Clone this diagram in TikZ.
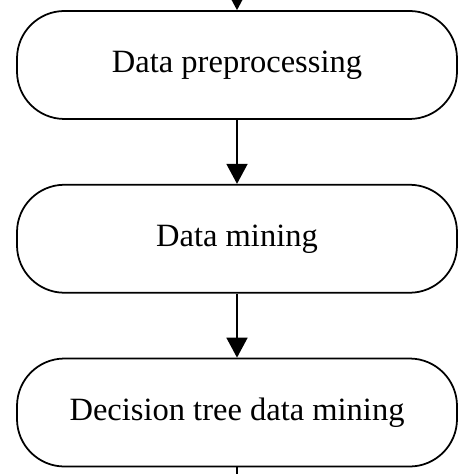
\documentclass[tikz,border=0pt]{standalone}
\usepackage{fontspec}
\setmainfont{Liberation Serif}
\usetikzlibrary{arrows.meta, positioning}
\tikzstyle{step box} = [rectangle,
			draw,
			line width = 1pt,
			rounded corners = 0.95cm,
			text centered,
			minimum width = 8.8cm,
			minimum height = 2.16cm,
			font = \fontsize{18.5}{22}\selectfont]
\tikzstyle{line} = [draw, line width = 1pt, -{Triangle[width=0.42cm, length=0.4cm]}]

\begin{document}
\begin{tikzpicture}[node distance = 1.28cm]
	\useasboundingbox (0,0) rectangle (9.48,9.48);
	\node [step box] (prep) at (4.74,8.18) {Data preprocessing};
	\node [step box, below=of prep] (mining) {Data mining};
	\node [step box, below=of mining] (dtree) {Decision tree data mining};
	\coordinate (in) at (4.74,9.48);
	\coordinate (out) at (4.74,0);
	\path [line] (in) -- (prep);
	\path [line] (prep) -- (mining);
	\path [line] (mining) -- (dtree);
	\draw [line width = 1pt] (dtree) -- (out);
\end{tikzpicture}
\end{document}
